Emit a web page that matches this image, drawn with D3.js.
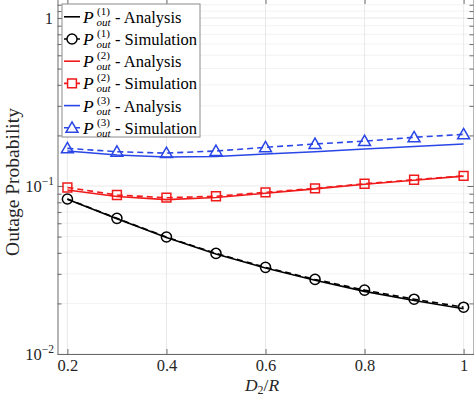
<!DOCTYPE html>
<html><head><meta charset="utf-8">
<script src="https://cdn.jsdelivr.net/npm/d3@7"></script>
<style>
html,body{margin:0;padding:0;background:#fff;}
svg{display:block;}
svg text{font-family:"Liberation Serif","DejaVu Serif",serif !important;}
</style></head>
<body>
<svg id="chart" width="474" height="399"></svg>
<script>
// ---- data ----
const ratios = [0.2, 0.3, 0.4, 0.5, 0.6, 0.7, 0.8, 0.9, 1.0];
const p1Analysis   = [0.0833, 0.0638, 0.0493, 0.0394, 0.0325, 0.0275, 0.0236, 0.0208, 0.0186];
const p1Simulation = [0.0837, 0.0642, 0.0497, 0.0397, 0.0328, 0.0278, 0.0240, 0.0212, 0.0190];
const p2Analysis   = [0.0946, 0.0866, 0.0830, 0.0855, 0.0905, 0.0962, 0.1025, 0.1082, 0.1145];
const p2Simulation = [0.0980, 0.0884, 0.0852, 0.0869, 0.0917, 0.0968, 0.1032, 0.1090, 0.1150];
const p3Analysis   = [0.1616, 0.1530, 0.1488, 0.1500, 0.1550, 0.1600, 0.1660, 0.1720, 0.1780];
const p3Simulation = [0.1676, 0.1600, 0.1570, 0.1616, 0.1700, 0.1780, 0.1850, 0.1950, 0.2030];
const xTicks = [0.2, 0.4, 0.6, 0.8, 1];
const xTickLabels = ["0.2", "0.4", "0.6", "0.8", "1"];
const yTicks = [0.01, 0.1, 1];
const yTickBase = ["10", "10", "1"];
const yTickExp = ["\u22122", "\u22121", ""];
const legendLabels = ["Analysis", "Simulation", "Analysis", "Simulation", "Analysis", "Simulation"];
const legendSup = ["(1)", "(1)", "(2)", "(2)", "(3)", "(3)"];

// ---- layout ----
const FONT = '"Liberation Serif","DejaVu Serif",serif';
const svg = d3.select("#chart");
const L = 57.5, R = 473.5, B = 354, T = -1.1;
const x = d3.scaleLinear().domain([0.18, 1.02]).range([L, R]);
const y = d3.scaleLog().domain([0.01, 1.3]).range([B, T]);

const minorY = [];
[0.01, 0.1, 1].forEach(d => { for (let k = 2; k <= 9; k++) { const v = d * k; if (v < 1.3) minorY.push(+v.toPrecision(3)); } });
minorY.push(1.1, 1.2);

// grid
const grid = svg.append("g");
grid.selectAll("line.mny").data(minorY).join("line")
  .attr("x1", L).attr("x2", R).attr("y1", d => y(d)).attr("y2", d => y(d))
  .attr("stroke", "#efefef").attr("stroke-width", 0.8);
grid.selectAll("line.gx").data(xTicks).join("line")
  .attr("x1", d => x(d)).attr("x2", d => x(d)).attr("y1", T).attr("y2", B)
  .attr("stroke", "#e3e3e3").attr("stroke-width", 0.8);
grid.selectAll("line.gy").data(yTicks).join("line")
  .attr("x1", L).attr("x2", R).attr("y1", d => y(d)).attr("y2", d => y(d))
  .attr("stroke", "#e3e3e3").attr("stroke-width", 0.8);

// axes (ticks inward)
const axisColor = "#6a6a6a";
function styleAxis(g) {
  g.attr("font-family", FONT);
  g.selectAll("path,line").attr("stroke", axisColor);
  g.select(".domain").attr("stroke-width", 1);
}
svg.append("g").attr("transform", `translate(0,${B})`)
  .call(d3.axisBottom(x).tickValues(xTicks).tickSizeInner(-5).tickSizeOuter(0).tickFormat((d, i) => xTickLabels[i]).tickPadding(5))
  .call(styleAxis)
  .call(g => g.selectAll("text").attr("font-size", 16.5).attr("fill", "#262626").style("font-family", FONT));
svg.append("g").attr("transform", `translate(0,${T})`)
  .call(d3.axisTop(x).tickValues(xTicks).tickSizeInner(-5).tickSizeOuter(0).tickFormat(""))
  .call(styleAxis);
svg.append("g").attr("transform", `translate(${L},0)`)
  .call(d3.axisLeft(y).tickValues(yTicks).tickSizeInner(-6).tickSizeOuter(0).tickFormat(""))
  .call(styleAxis);
svg.append("g").attr("transform", `translate(${L},0)`)
  .call(d3.axisLeft(y).tickValues(minorY).tickSizeInner(-4).tickSizeOuter(0).tickFormat(""))
  .call(styleAxis).call(g => g.select(".domain").remove());
svg.append("g").attr("transform", `translate(${R},0)`)
  .call(d3.axisRight(y).tickValues(yTicks).tickSizeInner(-6).tickSizeOuter(0).tickFormat(""))
  .call(styleAxis);
svg.append("g").attr("transform", `translate(${R},0)`)
  .call(d3.axisRight(y).tickValues(minorY).tickSizeInner(-4).tickSizeOuter(0).tickFormat(""))
  .call(styleAxis).call(g => g.select(".domain").remove());

// y tick labels with superscripts
yTicks.forEach((v, i) => {
  const t = svg.append("text").attr("text-anchor", "end").attr("fill", "#262626").style("font-family", FONT)
    .attr("x", yTickExp[i] ? 54 : 53).attr("y", y(v) + 6);
  t.append("tspan").attr("font-size", 16.5).text(yTickBase[i]);
  if (yTickExp[i]) t.append("tspan").attr("font-size", 11.5).attr("dy", -7).text(yTickExp[i]);
});

// axis labels
svg.append("text").attr("transform", `translate(19,${(B + 10) / 2}) rotate(-90)`).style("font-family", FONT)
  .attr("text-anchor", "middle").attr("font-size", 19.5).attr("fill", "#262626").text("Outage Probability");
const xl = svg.append("text").attr("x", 262).attr("y", 391).attr("text-anchor", "middle").attr("fill", "#262626")
  .attr("font-size", 17.5).style("font-family", FONT);
xl.append("tspan").attr("font-style", "italic").text("D");
xl.append("tspan").attr("font-size", 12).attr("dy", 3).text("2");
xl.append("tspan").attr("dy", -3).text("/");
xl.append("tspan").attr("font-style", "italic").text("R");

// ---- series ----
const black = "#000000", red = "#f01a1a", blue = "#2a46e6";
const series = [
  { vals: p1Analysis, color: black, dash: null, marker: null },
  { vals: p1Simulation, color: black, dash: "6,4", marker: "circle" },
  { vals: p2Analysis, color: red, dash: null, marker: null },
  { vals: p2Simulation, color: red, dash: "6,4", marker: "square" },
  { vals: p3Analysis, color: blue, dash: null, marker: null },
  { vals: p3Simulation, color: blue, dash: "6,4", marker: "triangle" }
];
const line = d3.line().x((d, i) => x(ratios[i])).y(d => y(d));
const symbols = { circle: d3.symbolCircle, square: d3.symbolSquare, triangle: d3.symbolTriangle };
const symSize = { circle: 80, square: 78, triangle: 62 };
const plot = svg.append("g");
series.forEach(s => {
  plot.append("path").datum(s.vals).attr("d", line).attr("fill", "none")
    .attr("stroke", s.color).attr("stroke-width", 1.6)
    .attr("stroke-dasharray", s.dash);
});
series.filter(s => s.marker).forEach(s => {
  plot.selectAll(null).data(s.vals).join("path")
    .attr("transform", (d, i) => `translate(${x(ratios[i])},${y(d) + (s.marker === "triangle" ? 1 : 0)})`)
    .attr("d", d3.symbol().type(symbols[s.marker]).size(symSize[s.marker]))
    .attr("fill", "none").attr("stroke", s.color).attr("stroke-width", 1.5);
});

// ---- legend ----
const lg = svg.append("g").style("font-family", FONT);
lg.append("rect").attr("x", 62).attr("y", 4).attr("width", 138).attr("height", 133)
  .attr("fill", "#fff").attr("stroke", "#8a8a8a").attr("stroke-width", 1);
series.forEach((s, i) => {
  const cy = 16.8 + i * 22.2;
  lg.append("line").attr("x1", 64).attr("x2", 80).attr("y1", cy).attr("y2", cy)
    .attr("stroke", s.color).attr("stroke-width", 1.6).attr("stroke-dasharray", s.dash ? "4,2" : null);
  if (s.marker) {
    lg.append("path").attr("transform", `translate(72,${cy + (s.marker === "triangle" ? 1 : 0)})`)
      .attr("d", d3.symbol().type(symbols[s.marker]).size(symSize[s.marker]))
      .attr("fill", "#fff").attr("stroke", s.color).attr("stroke-width", 1.5);
  }
  lg.append("text").attr("x", 83).attr("y", cy + 6).attr("font-size", 17.5).attr("font-style", "italic").attr("fill", "#000").text("P");
  lg.append("text").attr("x", 97).attr("y", cy - 2).attr("font-size", 11).attr("fill", "#000").text(legendSup[i]);
  lg.append("text").attr("x", 96.5).attr("y", cy + 9).attr("font-size", 11).attr("font-style", "italic").attr("fill", "#000").text("out");
  lg.append("text").attr("x", 115).attr("y", cy + 6).attr("font-size", 16.5).attr("fill", "#000").text("- " + legendLabels[i]);
});
</script>
</body></html>
